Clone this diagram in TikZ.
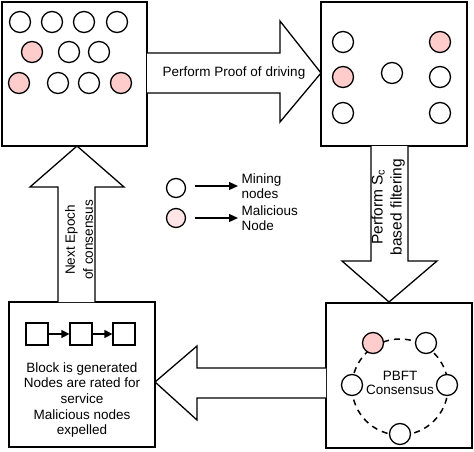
\documentclass[tikz,border=0pt]{standalone}
\usepackage{fontspec}
\setmainfont{Liberation Sans}
\usepackage{tikz}
\usetikzlibrary{shapes, positioning, arrows.meta}

\tikzset{
  panel/.style = {draw, line width = 1.8pt},
  peer/.style = {circle, draw, line width = 1.3pt, minimum size = 21pt, inner sep = 0pt},
  rogue/.style = {peer, fill = red!20},
  bigarrow/.style = {draw, line width = 1.3pt, fill = white, line join = miter},
  block/.style = {draw, line width = 1.2pt, minimum size = 22pt, inner sep = 0pt},
  txt/.style = {font = \fontsize{13.5}{15.7}\selectfont, align = center}
}

\begin{document}
\begin{tikzpicture}[x = 1pt, y = -1pt]

\useasboundingbox (0, 0) rectangle (474, 452);

% the four stages
\draw[panel] (2, 2) rectangle (147, 146);
\draw[panel] (321, 2) rectangle (467, 146);
\draw[panel] (9, 302) rectangle (155, 447);
\draw[panel] (326, 303) rectangle (472, 448);

% block arrows
\draw[bigarrow] (147, 53) -- (280, 53) -- (280, 21) -- (321, 73) -- (280, 122) -- (280, 93) -- (147, 93) ;
\node[txt] (pod) at (234, 73) {Perform Proof of driving};

\draw[bigarrow] (371, 146) -- (371, 261) -- (342, 261) -- (389, 302) -- (437, 261) -- (408, 261) -- (408, 146) ;
\node[txt, rotate = 90, font = \fontsize{15.5}{19}\selectfont] (filter) at (388, 207) {Perform S\textsubscript{c}\\based filtering};

\draw[bigarrow] (326, 368) -- (197, 368) -- (197, 346) -- (155, 382) -- (197, 420) -- (197, 398) -- (326, 398) ;

\draw[bigarrow] (58, 302) -- (58, 187) -- (30, 187) -- (77, 146) -- (124, 187) -- (95, 187) -- (95, 302) ;
\node[txt, rotate = 90, font = \fontsize{13.5}{18}\selectfont] (epoch) at (79, 240) {Next Epoch\\of consensus};

% nodes before filtering
\node[peer] (a1) at (20, 22) {};
\node[peer] (a2) at (52, 22) {};
\node[peer] (a3) at (84, 22) {};
\node[peer] (a4) at (117, 22) {};
\node[rogue] (a5) at (32, 52) {};
\node[peer] (a6) at (69, 52) {};
\node[peer] (a7) at (99, 52) {};
\node[rogue] (a8) at (19, 83) {};
\node[peer] (a9) at (58, 83) {};
\node[peer] (a10) at (89, 83) {};
\node[rogue] (a11) at (121, 83) {};

% nodes after proof of driving
\node[peer] (b1) at (343, 42) {};
\node[rogue] (b2) at (343, 77) {};
\node[peer] (b3) at (343, 113) {};
\node[peer] (b4) at (392, 73) {};
\node[rogue] (b5) at (440, 42) {};
\node[peer] (b6) at (440, 77) {};
\node[peer] (b7) at (440, 113) {};

% legend
\node[peer, minimum size = 19pt] (lg1) at (176, 188) {};
\node[txt, anchor = west, align = left, font = \fontsize{13.5}{15}\selectfont] (lgt1) at (238, 186) {Mining\\nodes};
\draw[line width = 1.3pt, -{Triangle[length = 9pt, width = 8pt]}] (195, 186) -- (lgt1.west);
\node[rogue, minimum size = 19pt, fill = red!10] (lg2) at (176, 218) {};
\node[txt, anchor = west, align = left, font = \fontsize{13.5}{15}\selectfont] (lgt2) at (238, 218) {Malicious\\Node};
\draw[line width = 1.3pt, -{Triangle[length = 9pt, width = 8pt]}] (195, 218) -- (lgt2.west);

% PBFT ring
\draw[line width = 1.5pt, dash pattern = on 6pt off 5pt] (400, 387) circle (48);
\node[txt, font = \fontsize{13.5}{14.5}\selectfont] (pbft) at (400, 383) {PBFT\\Consensus};
\node[rogue] (c1) at (373, 343) {};
\node[peer, fill = white] (c2) at (426, 343) {};
\node[peer, fill = white] (c3) at (352, 385) {};
\node[peer, fill = white] (c4) at (447, 385) {};
\node[peer, fill = white] (c5) at (400, 434) {};

% chain of blocks
\node[block] (k1) at (37, 334) {};
\node[block] (k2) at (81, 334) {};
\node[block] (k3) at (124, 334) {};
\draw[line width = 1.2pt, -{Triangle[length = 8pt, width = 8pt]}] (k1) -- (k2);
\draw[line width = 1.2pt, -{Triangle[length = 8pt, width = 8pt]}] (k2) -- (k3);
\node[txt] (blk) at (82, 400) {Block is generated\\Nodes are rated for\\service\\Malicious nodes\\expelled};

\end{tikzpicture}
\end{document}
